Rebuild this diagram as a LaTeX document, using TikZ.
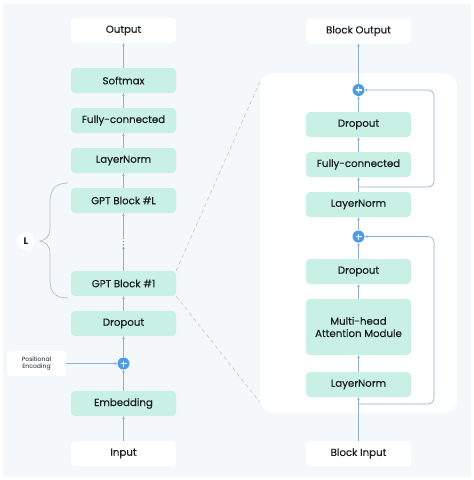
\documentclass[tikz,border=0pt]{standalone}
\usepackage{fontspec}
\setmainfont{Poppins}
\newfontfamily\medfont{Poppins}[FakeBold=0.35]
\usetikzlibrary{arrows.meta,calc}
\definecolor{bg}{HTML}{F4F8FB}
\definecolor{mint}{HTML}{C9F0E4}
\definecolor{ln}{HTML}{8EAED4}
\definecolor{plusblue}{HTML}{4A9CE8}
\definecolor{txt}{HTML}{1A1D21}
\definecolor{dashc}{HTML}{C4C8CC}
\definecolor{bracec}{HTML}{A9BCD0}
\definecolor{dotc}{HTML}{4CC4A0}
\begin{document}
\begin{tikzpicture}[x=1pt,y=-1pt,
 box/.style={draw=none,fill=mint,rounded corners=4pt,minimum width=105pt,minimum height=25pt,inner sep=0pt,font=\medfont\fontsize{10.2}{12.3}\selectfont,text=txt,align=center},
 wbox/.style={box,fill=white},
 plusnode/.style={circle,fill=plusblue,minimum size=12pt,inner sep=0pt,
   path picture={\draw[white,line width=1.1pt] ($(path picture bounding box.center)+(-3pt,0pt)$) -- ++(6pt,0pt);
                 \draw[white,line width=1.1pt] ($(path picture bounding box.center)+(0pt,-3pt)$) -- ++(0pt,6pt);}},
 arr/.style={draw=ln,line width=0.6pt,-{Stealth[length=3pt,width=2.6pt]}},
]
\fill[white] (0,0) rectangle (474,480);
\fill[bg] (3,4) rectangle (471,477);

% right panel
\node[fill=white,rounded corners=14pt,minimum width=197pt,minimum height=340pt,inner sep=0pt] (panel) at (358.5,243) {};

% left column
\node[wbox] (out) at (123.5,30.5) {Output};
\node[box] (soft) at (123.5,80.5) {Softmax};
\node[box] (fc) at (123.5,120.5) {Fully-connected};
\node[box] (lnl) at (123.5,160.5) {LayerNorm};
\node[box] (gptL) at (123.5,200.5) {GPT Block \#L};
\node[inner sep=0pt,minimum width=4pt,minimum height=9pt] (dots) at (123.5,241.5) {};
\fill[dotc] (123.5,238.3) circle (0.9pt) (123.5,241.5) circle (0.9pt) (123.5,244.7) circle (0.9pt);
\node[box] (gpt1) at (123.5,283.5) {GPT Block \#1};
\node[box] (drop) at (123.5,323.5) {Dropout};
\node[plusnode] (plus) at (123.5,363.5) {};
\node[box] (emb) at (123.5,403.5) {Embedding};
\node[wbox] (inp) at (123.5,453.5) {Input};
\node[wbox,minimum width=59pt,font=\fontsize{6.1}{7.4}\selectfont] (pos) at (36.5,363.5) {Positional\\Encoding};

\draw[arr] (inp) -- (emb);
\draw[arr] (emb) -- (plus);
\draw[arr] (pos) -- (plus);
\draw[arr] (plus) -- (drop);
\draw[arr] (drop) -- (gpt1);
\draw[arr] (gpt1) -- (dots);
\draw[arr] (dots) -- (gptL);
\draw[arr] (gptL) -- (lnl);
\draw[arr] (lnl) -- (fc);
\draw[arr] (fc) -- (soft);
\draw[arr] (soft) -- (out);

% brace
\coordinate (b1) at (68,183);
\coordinate (b2) at (68,298);
\coordinate (bt) at (40,241);
\draw[bracec,line width=0.7pt] (b1) .. controls (55,183) and (50,190) .. (50,202)
  -- (50,228) .. controls (50,236) and (46,240) .. (bt)
  .. controls (46,242) and (50,246) .. (50,254)
  -- (50,280) .. controls (50,292) and (55,298) .. (b2);
\node[circle,fill=white,minimum size=18pt,inner sep=0pt,font=\fontsize{9.5}{10}\selectfont\bfseries,text=txt] (Lc) at (26,241) {L};

% dashed zoom lines
\coordinate (pt) at ($(panel.north west)+(0,9)$);
\coordinate (pb) at ($(panel.south west)+(0,-11)$);
\draw[dashc,dashed,line width=0.6pt,dash pattern=on 4pt off 3pt] (gpt1.north east) -- (pt);
\draw[dashc,dashed,line width=0.6pt,dash pattern=on 4pt off 3pt] (gpt1.south east) -- (pb);

% right column
\node[wbox] (bout) at (358.5,31) {Block Output};
\node[plusnode] (p1) at (358.5,90) {};
\node[box] (rdrop1) at (358.5,124.5) {Dropout};
\node[box] (rfc) at (358.5,164.5) {Fully-connected};
\node[box] (rln1) at (358.5,204.5) {LayerNorm};
\node[plusnode] (p2) at (358.5,236.5) {};
\node[box] (rdrop2) at (358.5,271.5) {Dropout};
\node[box,minimum height=56pt] (mha) at (358.5,327) {Multi-head\\Attention Module};
\node[box] (rln2) at (358.5,384.5) {LayerNorm};
\node[wbox] (bin) at (358.5,453.5) {Block Input};

\draw[arr] (bin) -- (rln2);
\draw[arr] (rln2) -- (mha);
\draw[arr] (mha) -- (rdrop2);
\draw[arr] (rdrop2) -- (p2);
\draw[arr] (p2) -- (rln1);
\draw[arr] (rln1) -- (rfc);
\draw[arr] (rfc) -- (rdrop1);
\draw[arr] (rdrop1) -- (p1);
\draw[arr] (p1) -- (bout);

\coordinate (r1a) at (358.5,187);
\coordinate (r1b) at (434,187);
\coordinate (r1c) at (434,90);
\draw[arr,rounded corners=6pt] (r1a) -- (r1b) -- (r1c) -- (p1);
\coordinate (r2a) at (358.5,404);
\coordinate (r2b) at (434,404);
\coordinate (r2c) at (434,236.5);
\draw[arr,rounded corners=6pt] (r2a) -- (r2b) -- (r2c) -- (p2);
\end{tikzpicture}
\end{document}
